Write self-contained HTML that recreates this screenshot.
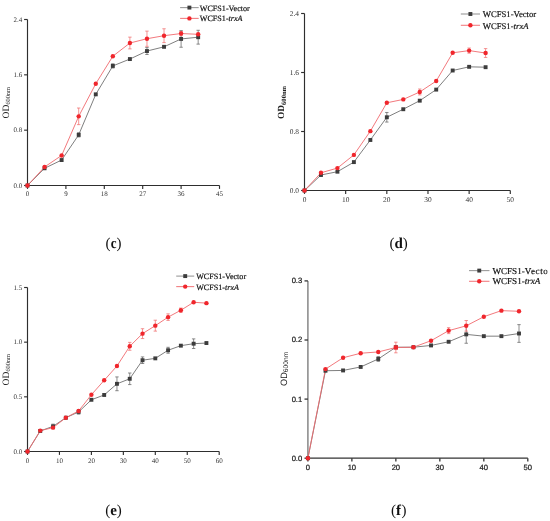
<!DOCTYPE html>
<html><head><meta charset="utf-8"><title>Growth curves</title>
<style>
html,body{margin:0;padding:0;background:#fff;}
body{width:550px;height:521px;overflow:hidden;}
svg{display:block;}
</style></head>
<body>
<svg width="550" height="521" viewBox="0 0 550 521" text-rendering="geometricPrecision">
<defs><clipPath id="clipf"><rect x="480" y="260" width="67.6" height="20"/></clipPath></defs>
<rect width="550" height="521" fill="#fff"/>
<path d="M27.5 19.5V185.5" stroke="#2e2e2e" stroke-width="1.15" fill="none"/>
<path d="M26.9 185.5H219.5" stroke="#2e2e2e" stroke-width="1.15" fill="none"/>
<path d="M24.1 185.5H27.5" stroke="#2e2e2e" stroke-width="1.15"/>
<path d="M24.1 130.17H27.5" stroke="#2e2e2e" stroke-width="1.15"/>
<path d="M24.1 74.83H27.5" stroke="#2e2e2e" stroke-width="1.15"/>
<path d="M24.1 19.5H27.5" stroke="#2e2e2e" stroke-width="1.15"/>
<path d="M27.5 185.5V188.9" stroke="#2e2e2e" stroke-width="1.15"/>
<path d="M65.9 185.5V188.9" stroke="#2e2e2e" stroke-width="1.15"/>
<path d="M104.3 185.5V188.9" stroke="#2e2e2e" stroke-width="1.15"/>
<path d="M142.7 185.5V188.9" stroke="#2e2e2e" stroke-width="1.15"/>
<path d="M181.1 185.5V188.9" stroke="#2e2e2e" stroke-width="1.15"/>
<path d="M219.5 185.5V188.9" stroke="#2e2e2e" stroke-width="1.15"/>
<text x="22.2" y="187.8" text-anchor="end" font-family="'Liberation Serif', serif" font-size="7.0" fill="#333">0.0</text>
<text x="22.2" y="132.47" text-anchor="end" font-family="'Liberation Serif', serif" font-size="7.0" fill="#333">0.8</text>
<text x="22.2" y="77.13" text-anchor="end" font-family="'Liberation Serif', serif" font-size="7.0" fill="#333">1.6</text>
<text x="22.2" y="21.8" text-anchor="end" font-family="'Liberation Serif', serif" font-size="7.0" fill="#333">2.4</text>
<text x="27.5" y="196.4" text-anchor="middle" font-family="'Liberation Serif', serif" font-size="7.0" fill="#333">0</text>
<text x="65.9" y="196.4" text-anchor="middle" font-family="'Liberation Serif', serif" font-size="7.0" fill="#333">9</text>
<text x="104.3" y="196.4" text-anchor="middle" font-family="'Liberation Serif', serif" font-size="7.0" fill="#333">18</text>
<text x="142.7" y="196.4" text-anchor="middle" font-family="'Liberation Serif', serif" font-size="7.0" fill="#333">27</text>
<text x="181.1" y="196.4" text-anchor="middle" font-family="'Liberation Serif', serif" font-size="7.0" fill="#333">36</text>
<text x="219.5" y="196.4" text-anchor="middle" font-family="'Liberation Serif', serif" font-size="7.0" fill="#333">45</text>
<text transform="translate(8.6,118.6) rotate(-90)" font-family="'Liberation Serif', serif" font-size="9.7" font-weight="normal" fill="#222">OD<tspan font-size="6.3" dy="1.6">600nm</tspan></text>
<polyline points="27.5,185.5 44.57,168.28 61.63,160.05 78.7,134.87 95.77,94.34 112.83,65.91 129.9,59.06 146.97,51.04 164.03,46.82 181.1,38.94 198.17,37.21" fill="none" stroke="#707070" stroke-width="0.9"/>
<polyline points="27.5,185.5 44.57,166.96 61.63,155.48 78.7,116.33 95.77,83.69 112.83,56.23 129.9,43.02 146.97,38.73 164.03,35.69 181.1,33.54 198.17,34.3" fill="none" stroke="#f06a6e" stroke-width="0.9"/>
<path d="M146.97 47.58V54.5M145.27 47.58h3.4M145.27 54.5h3.4" stroke="#666" stroke-width="0.75" fill="none"/>
<path d="M181.1 30.64V47.24M179.4 30.64h3.4M179.4 47.24h3.4" stroke="#666" stroke-width="0.75" fill="none"/>
<path d="M198.17 30.29V44.12M196.47 30.29h3.4M196.47 44.12h3.4" stroke="#666" stroke-width="0.75" fill="none"/>
<path d="M78.7 132.79V136.94M77 132.79h3.4M77 136.94h3.4" stroke="#666" stroke-width="0.75" fill="none"/>
<path d="M112.83 63.84V67.99M111.13 63.84h3.4M111.13 67.99h3.4" stroke="#666" stroke-width="0.75" fill="none"/>
<path d="M78.7 108.03V124.63M77 108.03h3.4M77 124.63h3.4" stroke="#f07070" stroke-width="0.75" fill="none"/>
<path d="M129.9 37.14V48.9M128.2 37.14h3.4M128.2 48.9h3.4" stroke="#f07070" stroke-width="0.75" fill="none"/>
<path d="M146.97 31.12V46.34M145.27 31.12h3.4M145.27 46.34h3.4" stroke="#f07070" stroke-width="0.75" fill="none"/>
<path d="M164.03 28.77V42.6M162.33 28.77h3.4M162.33 42.6h3.4" stroke="#f07070" stroke-width="0.75" fill="none"/>
<path d="M181.1 31.47V35.62M179.4 31.47h3.4M179.4 35.62h3.4" stroke="#f07070" stroke-width="0.75" fill="none"/>
<rect x="25.55" y="183.55" width="3.9" height="3.9" fill="#3c3c3c"/>
<rect x="42.62" y="166.33" width="3.9" height="3.9" fill="#3c3c3c"/>
<rect x="59.68" y="158.1" width="3.9" height="3.9" fill="#3c3c3c"/>
<rect x="76.75" y="132.92" width="3.9" height="3.9" fill="#3c3c3c"/>
<rect x="93.82" y="92.39" width="3.9" height="3.9" fill="#3c3c3c"/>
<rect x="110.88" y="63.96" width="3.9" height="3.9" fill="#3c3c3c"/>
<rect x="127.95" y="57.11" width="3.9" height="3.9" fill="#3c3c3c"/>
<rect x="145.02" y="49.09" width="3.9" height="3.9" fill="#3c3c3c"/>
<rect x="162.08" y="44.87" width="3.9" height="3.9" fill="#3c3c3c"/>
<rect x="179.15" y="36.99" width="3.9" height="3.9" fill="#3c3c3c"/>
<rect x="196.22" y="35.26" width="3.9" height="3.9" fill="#3c3c3c"/>
<circle cx="27.5" cy="185.5" r="2.2" fill="#f0262c"/>
<circle cx="44.57" cy="166.96" r="2.2" fill="#f0262c"/>
<circle cx="61.63" cy="155.48" r="2.2" fill="#f0262c"/>
<circle cx="78.7" cy="116.33" r="2.2" fill="#f0262c"/>
<circle cx="95.77" cy="83.69" r="2.2" fill="#f0262c"/>
<circle cx="112.83" cy="56.23" r="2.2" fill="#f0262c"/>
<circle cx="129.9" cy="43.02" r="2.2" fill="#f0262c"/>
<circle cx="146.97" cy="38.73" r="2.2" fill="#f0262c"/>
<circle cx="164.03" cy="35.69" r="2.2" fill="#f0262c"/>
<circle cx="181.1" cy="33.54" r="2.2" fill="#f0262c"/>
<circle cx="198.17" cy="34.3" r="2.2" fill="#f0262c"/>
<path d="M180.1 7.6H198.7" stroke="#9a9a9a" stroke-width="1.1"/>
<rect x="187.45" y="5.65" width="3.9" height="3.9" fill="#3c3c3c"/>
<path d="M180.1 18.4H198.7" stroke="#f27f82" stroke-width="1.1"/>
<circle cx="189.4" cy="18.4" r="2.2" fill="#f0262c"/>
<text x="199.8" y="10.5" font-family="'Liberation Serif', serif" font-size="8.1" fill="#111" stroke="#111" stroke-width="0.18">WCFS1-<tspan>Vector</tspan></text>
<text x="199.8" y="21.3" font-family="'Liberation Serif', serif" font-size="8.1" fill="#111" stroke="#111" stroke-width="0.18">WCFS1-<tspan font-style="italic">trxA</tspan></text>
<text x="105.4" y="247.8" font-family="'Liberation Serif', serif" font-size="15" fill="#111">(</text>
<text x="110.7" y="247.8" font-family="'Liberation Serif', serif" font-size="15" font-weight="bold" fill="#111" textLength="5.8" lengthAdjust="spacingAndGlyphs">c</text>
<text x="116.4" y="247.8" font-family="'Liberation Serif', serif" font-size="15" fill="#111">)</text>
<path d="M304.5 13.5V190.5" stroke="#2e2e2e" stroke-width="1.15" fill="none"/>
<path d="M303.9 190.5H510.3" stroke="#2e2e2e" stroke-width="1.15" fill="none"/>
<path d="M301.1 190.5H304.5" stroke="#2e2e2e" stroke-width="1.15"/>
<path d="M301.1 131.5H304.5" stroke="#2e2e2e" stroke-width="1.15"/>
<path d="M301.1 72.5H304.5" stroke="#2e2e2e" stroke-width="1.15"/>
<path d="M301.1 13.5H304.5" stroke="#2e2e2e" stroke-width="1.15"/>
<path d="M304.5 190.5V193.9" stroke="#2e2e2e" stroke-width="1.15"/>
<path d="M345.66 190.5V193.9" stroke="#2e2e2e" stroke-width="1.15"/>
<path d="M386.82 190.5V193.9" stroke="#2e2e2e" stroke-width="1.15"/>
<path d="M427.98 190.5V193.9" stroke="#2e2e2e" stroke-width="1.15"/>
<path d="M469.14 190.5V193.9" stroke="#2e2e2e" stroke-width="1.15"/>
<path d="M510.3 190.5V193.9" stroke="#2e2e2e" stroke-width="1.15"/>
<text x="299" y="192.9" text-anchor="end" font-family="'Liberation Serif', serif" font-size="7.4" fill="#333">0.0</text>
<text x="299" y="133.9" text-anchor="end" font-family="'Liberation Serif', serif" font-size="7.4" fill="#333">0.8</text>
<text x="299" y="74.9" text-anchor="end" font-family="'Liberation Serif', serif" font-size="7.4" fill="#333">1.6</text>
<text x="299" y="15.9" text-anchor="end" font-family="'Liberation Serif', serif" font-size="7.4" fill="#333">2.4</text>
<text x="304.5" y="202" text-anchor="middle" font-family="'Liberation Serif', serif" font-size="7.4" fill="#333">0</text>
<text x="345.66" y="202" text-anchor="middle" font-family="'Liberation Serif', serif" font-size="7.4" fill="#333">10</text>
<text x="386.82" y="202" text-anchor="middle" font-family="'Liberation Serif', serif" font-size="7.4" fill="#333">20</text>
<text x="427.98" y="202" text-anchor="middle" font-family="'Liberation Serif', serif" font-size="7.4" fill="#333">30</text>
<text x="469.14" y="202" text-anchor="middle" font-family="'Liberation Serif', serif" font-size="7.4" fill="#333">40</text>
<text x="510.3" y="202" text-anchor="middle" font-family="'Liberation Serif', serif" font-size="7.4" fill="#333">50</text>
<text transform="translate(284.3,119) rotate(-90)" font-family="'Liberation Serif', serif" font-size="9.4" font-weight="bold" fill="#222">OD<tspan font-size="6.6" dy="1.5">600nm</tspan></text>
<polyline points="304.5,190.5 320.96,175.01 337.43,171.69 353.89,162.11 370.36,139.98 386.82,117.27 403.28,109.23 419.75,100.67 436.21,89.61 452.68,70.51 469.14,66.82 485.6,67.19" fill="none" stroke="#707070" stroke-width="0.9"/>
<polyline points="304.5,190.5 320.96,172.8 337.43,168.08 353.89,154.88 370.36,131.13 386.82,102.81 403.28,99.42 419.75,91.97 436.21,81.06 452.68,52.81 469.14,50.6 485.6,53.03" fill="none" stroke="#f06a6e" stroke-width="0.9"/>
<path d="M386.82 112.47V122.06M385.12 112.47h3.4M385.12 122.06h3.4" stroke="#666" stroke-width="0.75" fill="none"/>
<path d="M419.75 89.02V94.92M418.05 89.02h3.4M418.05 94.92h3.4" stroke="#f07070" stroke-width="0.75" fill="none"/>
<path d="M469.14 48.02V53.18M467.44 48.02h3.4M467.44 53.18h3.4" stroke="#f07070" stroke-width="0.75" fill="none"/>
<path d="M485.6 48.6V57.45M483.9 48.6h3.4M483.9 57.45h3.4" stroke="#f07070" stroke-width="0.75" fill="none"/>
<rect x="302.55" y="188.55" width="3.9" height="3.9" fill="#3c3c3c"/>
<rect x="319.01" y="173.06" width="3.9" height="3.9" fill="#3c3c3c"/>
<rect x="335.48" y="169.74" width="3.9" height="3.9" fill="#3c3c3c"/>
<rect x="351.94" y="160.16" width="3.9" height="3.9" fill="#3c3c3c"/>
<rect x="368.41" y="138.03" width="3.9" height="3.9" fill="#3c3c3c"/>
<rect x="384.87" y="115.32" width="3.9" height="3.9" fill="#3c3c3c"/>
<rect x="401.33" y="107.28" width="3.9" height="3.9" fill="#3c3c3c"/>
<rect x="417.8" y="98.72" width="3.9" height="3.9" fill="#3c3c3c"/>
<rect x="434.26" y="87.66" width="3.9" height="3.9" fill="#3c3c3c"/>
<rect x="450.73" y="68.56" width="3.9" height="3.9" fill="#3c3c3c"/>
<rect x="467.19" y="64.87" width="3.9" height="3.9" fill="#3c3c3c"/>
<rect x="483.65" y="65.24" width="3.9" height="3.9" fill="#3c3c3c"/>
<circle cx="304.5" cy="190.5" r="2.2" fill="#f0262c"/>
<circle cx="320.96" cy="172.8" r="2.2" fill="#f0262c"/>
<circle cx="337.43" cy="168.08" r="2.2" fill="#f0262c"/>
<circle cx="353.89" cy="154.88" r="2.2" fill="#f0262c"/>
<circle cx="370.36" cy="131.13" r="2.2" fill="#f0262c"/>
<circle cx="386.82" cy="102.81" r="2.2" fill="#f0262c"/>
<circle cx="403.28" cy="99.42" r="2.2" fill="#f0262c"/>
<circle cx="419.75" cy="91.97" r="2.2" fill="#f0262c"/>
<circle cx="436.21" cy="81.06" r="2.2" fill="#f0262c"/>
<circle cx="452.68" cy="52.81" r="2.2" fill="#f0262c"/>
<circle cx="469.14" cy="50.6" r="2.2" fill="#f0262c"/>
<circle cx="485.6" cy="53.03" r="2.2" fill="#f0262c"/>
<path d="M460.8 14H480" stroke="#9a9a9a" stroke-width="1.1"/>
<rect x="468.45" y="12.05" width="3.9" height="3.9" fill="#3c3c3c"/>
<path d="M460.8 25.3H480" stroke="#f27f82" stroke-width="1.1"/>
<circle cx="470.4" cy="25.3" r="2.2" fill="#f0262c"/>
<text x="482.7" y="17.3" font-family="'Liberation Serif', serif" font-size="8.7" fill="#111" stroke="#111" stroke-width="0.18">WCFS1-<tspan>Vector</tspan></text>
<text x="482.7" y="28.6" font-family="'Liberation Serif', serif" font-size="8.7" fill="#111" stroke="#111" stroke-width="0.18">WCFS1-<tspan font-style="italic">trxA</tspan></text>
<text x="389.4" y="247.8" font-family="'Liberation Serif', serif" font-size="15" fill="#111">(</text>
<text x="394.6" y="247.8" font-family="'Liberation Serif', serif" font-size="15" font-weight="bold" fill="#111">d</text>
<text x="402.8" y="247.8" font-family="'Liberation Serif', serif" font-size="15" fill="#111">)</text>
<path d="M27.5 287.5V451.5" stroke="#2e2e2e" stroke-width="1.15" fill="none"/>
<path d="M26.9 451.5H219.2" stroke="#2e2e2e" stroke-width="1.15" fill="none"/>
<path d="M24.1 451.5H27.5" stroke="#2e2e2e" stroke-width="1.15"/>
<path d="M24.1 396.83H27.5" stroke="#2e2e2e" stroke-width="1.15"/>
<path d="M24.1 342.17H27.5" stroke="#2e2e2e" stroke-width="1.15"/>
<path d="M24.1 287.5H27.5" stroke="#2e2e2e" stroke-width="1.15"/>
<path d="M27.5 451.5V454.9" stroke="#2e2e2e" stroke-width="1.15"/>
<path d="M59.45 451.5V454.9" stroke="#2e2e2e" stroke-width="1.15"/>
<path d="M91.4 451.5V454.9" stroke="#2e2e2e" stroke-width="1.15"/>
<path d="M123.35 451.5V454.9" stroke="#2e2e2e" stroke-width="1.15"/>
<path d="M155.3 451.5V454.9" stroke="#2e2e2e" stroke-width="1.15"/>
<path d="M187.25 451.5V454.9" stroke="#2e2e2e" stroke-width="1.15"/>
<path d="M219.2 451.5V454.9" stroke="#2e2e2e" stroke-width="1.15"/>
<text x="22.2" y="453.8" text-anchor="end" font-family="'Liberation Serif', serif" font-size="7.0" fill="#333">0.0</text>
<text x="22.2" y="399.13" text-anchor="end" font-family="'Liberation Serif', serif" font-size="7.0" fill="#333">0.5</text>
<text x="22.2" y="344.47" text-anchor="end" font-family="'Liberation Serif', serif" font-size="7.0" fill="#333">1.0</text>
<text x="22.2" y="289.8" text-anchor="end" font-family="'Liberation Serif', serif" font-size="7.0" fill="#333">1.5</text>
<text x="27.5" y="462.6" text-anchor="middle" font-family="'Liberation Serif', serif" font-size="7.0" fill="#333">0</text>
<text x="59.45" y="462.6" text-anchor="middle" font-family="'Liberation Serif', serif" font-size="7.0" fill="#333">10</text>
<text x="91.4" y="462.6" text-anchor="middle" font-family="'Liberation Serif', serif" font-size="7.0" fill="#333">20</text>
<text x="123.35" y="462.6" text-anchor="middle" font-family="'Liberation Serif', serif" font-size="7.0" fill="#333">30</text>
<text x="155.3" y="462.6" text-anchor="middle" font-family="'Liberation Serif', serif" font-size="7.0" fill="#333">40</text>
<text x="187.25" y="462.6" text-anchor="middle" font-family="'Liberation Serif', serif" font-size="7.0" fill="#333">50</text>
<text x="219.2" y="462.6" text-anchor="middle" font-family="'Liberation Serif', serif" font-size="7.0" fill="#333">60</text>
<text transform="translate(8.6,385.6) rotate(-90)" font-family="'Liberation Serif', serif" font-size="9.7" font-weight="normal" fill="#222">OD<tspan font-size="6.3" dy="1.6">600nm</tspan></text>
<polyline points="27.5,451.5 40.28,430.95 53.06,426.35 65.84,417.72 78.62,411.92 91.4,399.79 104.18,394.97 116.96,383.82 129.74,378.79 142.52,360.21 155.3,358.35 168.08,350.26 180.86,345.67 193.64,343.7 206.42,343.04" fill="none" stroke="#707070" stroke-width="0.9"/>
<polyline points="27.5,451.5 40.28,430.62 53.06,427.67 65.84,417.72 78.62,410.94 91.4,394.76 104.18,380.32 116.96,366 129.74,346.32 142.52,333.64 155.3,325.66 168.08,317.13 180.86,310.24 193.64,302.26 206.42,303.13" fill="none" stroke="#f06a6e" stroke-width="0.9"/>
<path d="M116.96 376.93V390.71M115.26 376.93h3.4M115.26 390.71h3.4" stroke="#666" stroke-width="0.75" fill="none"/>
<path d="M129.74 373V384.59M128.04 373h3.4M128.04 384.59h3.4" stroke="#666" stroke-width="0.75" fill="none"/>
<path d="M142.52 356.93V363.49M140.82 356.93h3.4M140.82 363.49h3.4" stroke="#666" stroke-width="0.75" fill="none"/>
<path d="M168.08 347.31V353.21M166.38 347.31h3.4M166.38 353.21h3.4" stroke="#666" stroke-width="0.75" fill="none"/>
<path d="M193.64 338.89V348.51M191.94 338.89h3.4M191.94 348.51h3.4" stroke="#666" stroke-width="0.75" fill="none"/>
<path d="M53.06 424.17V428.54M51.36 424.17h3.4M51.36 428.54h3.4" stroke="#666" stroke-width="0.75" fill="none"/>
<path d="M78.62 409.73V414.11M76.92 409.73h3.4M76.92 414.11h3.4" stroke="#666" stroke-width="0.75" fill="none"/>
<path d="M129.74 342.39V350.26M128.04 342.39h3.4M128.04 350.26h3.4" stroke="#f07070" stroke-width="0.75" fill="none"/>
<path d="M142.52 328.72V338.56M140.82 328.72h3.4M140.82 338.56h3.4" stroke="#f07070" stroke-width="0.75" fill="none"/>
<path d="M155.3 320.19V331.12M153.6 320.19h3.4M153.6 331.12h3.4" stroke="#f07070" stroke-width="0.75" fill="none"/>
<path d="M168.08 313.85V320.41M166.38 313.85h3.4M166.38 320.41h3.4" stroke="#f07070" stroke-width="0.75" fill="none"/>
<path d="M180.86 308.05V312.43M179.16 308.05h3.4M179.16 312.43h3.4" stroke="#f07070" stroke-width="0.75" fill="none"/>
<rect x="25.55" y="449.55" width="3.9" height="3.9" fill="#3c3c3c"/>
<rect x="38.33" y="429" width="3.9" height="3.9" fill="#3c3c3c"/>
<rect x="51.11" y="424.4" width="3.9" height="3.9" fill="#3c3c3c"/>
<rect x="63.89" y="415.77" width="3.9" height="3.9" fill="#3c3c3c"/>
<rect x="76.67" y="409.97" width="3.9" height="3.9" fill="#3c3c3c"/>
<rect x="89.45" y="397.84" width="3.9" height="3.9" fill="#3c3c3c"/>
<rect x="102.23" y="393.02" width="3.9" height="3.9" fill="#3c3c3c"/>
<rect x="115.01" y="381.87" width="3.9" height="3.9" fill="#3c3c3c"/>
<rect x="127.79" y="376.84" width="3.9" height="3.9" fill="#3c3c3c"/>
<rect x="140.57" y="358.26" width="3.9" height="3.9" fill="#3c3c3c"/>
<rect x="153.35" y="356.4" width="3.9" height="3.9" fill="#3c3c3c"/>
<rect x="166.13" y="348.31" width="3.9" height="3.9" fill="#3c3c3c"/>
<rect x="178.91" y="343.72" width="3.9" height="3.9" fill="#3c3c3c"/>
<rect x="191.69" y="341.75" width="3.9" height="3.9" fill="#3c3c3c"/>
<rect x="204.47" y="341.09" width="3.9" height="3.9" fill="#3c3c3c"/>
<circle cx="27.5" cy="451.5" r="2.2" fill="#f0262c"/>
<circle cx="40.28" cy="430.62" r="2.2" fill="#f0262c"/>
<circle cx="53.06" cy="427.67" r="2.2" fill="#f0262c"/>
<circle cx="65.84" cy="417.72" r="2.2" fill="#f0262c"/>
<circle cx="78.62" cy="410.94" r="2.2" fill="#f0262c"/>
<circle cx="91.4" cy="394.76" r="2.2" fill="#f0262c"/>
<circle cx="104.18" cy="380.32" r="2.2" fill="#f0262c"/>
<circle cx="116.96" cy="366" r="2.2" fill="#f0262c"/>
<circle cx="129.74" cy="346.32" r="2.2" fill="#f0262c"/>
<circle cx="142.52" cy="333.64" r="2.2" fill="#f0262c"/>
<circle cx="155.3" cy="325.66" r="2.2" fill="#f0262c"/>
<circle cx="168.08" cy="317.13" r="2.2" fill="#f0262c"/>
<circle cx="180.86" cy="310.24" r="2.2" fill="#f0262c"/>
<circle cx="193.64" cy="302.26" r="2.2" fill="#f0262c"/>
<circle cx="206.42" cy="303.13" r="2.2" fill="#f0262c"/>
<path d="M176.2 276.1H194.2" stroke="#9a9a9a" stroke-width="1.1"/>
<rect x="183.25" y="274.15" width="3.9" height="3.9" fill="#3c3c3c"/>
<path d="M176.2 286.6H194.2" stroke="#f27f82" stroke-width="1.1"/>
<circle cx="185.2" cy="286.6" r="2.2" fill="#f0262c"/>
<text x="196.2" y="279" font-family="'Liberation Serif', serif" font-size="8.1" fill="#111" stroke="#111" stroke-width="0.18">WCFS1-<tspan>Vector</tspan></text>
<text x="196.2" y="289.5" font-family="'Liberation Serif', serif" font-size="8.1" fill="#111" stroke="#111" stroke-width="0.18">WCFS1-<tspan font-style="italic">trxA</tspan></text>
<text x="105.2" y="515" font-family="'Liberation Serif', serif" font-size="15" fill="#111">(</text>
<text x="110.3" y="515" font-family="'Liberation Serif', serif" font-size="15" font-weight="bold" fill="#111">e</text>
<text x="116.8" y="515" font-family="'Liberation Serif', serif" font-size="15" fill="#111">)</text>
<path d="M307.9 280.9V458.2" stroke="#878787" stroke-width="1.5" fill="none"/>
<path d="M307.3 458.2H527.8" stroke="#333" stroke-width="1.3" fill="none"/>
<path d="M304.5 458.2H307.9" stroke="#333" stroke-width="1.3"/>
<path d="M304.5 399.1H307.9" stroke="#333" stroke-width="1.3"/>
<path d="M304.5 340H307.9" stroke="#333" stroke-width="1.3"/>
<path d="M304.5 280.9H307.9" stroke="#333" stroke-width="1.3"/>
<path d="M307.9 458.2V461.6" stroke="#333" stroke-width="1.3"/>
<path d="M351.88 458.2V461.6" stroke="#333" stroke-width="1.3"/>
<path d="M395.86 458.2V461.6" stroke="#333" stroke-width="1.3"/>
<path d="M439.84 458.2V461.6" stroke="#333" stroke-width="1.3"/>
<path d="M483.82 458.2V461.6" stroke="#333" stroke-width="1.3"/>
<path d="M527.8 458.2V461.6" stroke="#333" stroke-width="1.3"/>
<text x="302.2" y="460.6" text-anchor="end" font-family="'Liberation Sans', sans-serif" font-size="7.6" fill="#1a1a1a" stroke="#1a1a1a" stroke-width="0.22">0.0</text>
<text x="302.2" y="401.5" text-anchor="end" font-family="'Liberation Sans', sans-serif" font-size="7.6" fill="#1a1a1a" stroke="#1a1a1a" stroke-width="0.22">0.1</text>
<text x="302.2" y="342.4" text-anchor="end" font-family="'Liberation Sans', sans-serif" font-size="7.6" fill="#1a1a1a" stroke="#1a1a1a" stroke-width="0.22">0.2</text>
<text x="302.2" y="283.3" text-anchor="end" font-family="'Liberation Sans', sans-serif" font-size="7.6" fill="#1a1a1a" stroke="#1a1a1a" stroke-width="0.22">0.3</text>
<text x="307.9" y="470.2" text-anchor="middle" font-family="'Liberation Sans', sans-serif" font-size="7.6" fill="#1a1a1a" stroke="#1a1a1a" stroke-width="0.22">0</text>
<text x="351.88" y="470.2" text-anchor="middle" font-family="'Liberation Sans', sans-serif" font-size="7.6" fill="#1a1a1a" stroke="#1a1a1a" stroke-width="0.22">10</text>
<text x="395.86" y="470.2" text-anchor="middle" font-family="'Liberation Sans', sans-serif" font-size="7.6" fill="#1a1a1a" stroke="#1a1a1a" stroke-width="0.22">20</text>
<text x="439.84" y="470.2" text-anchor="middle" font-family="'Liberation Sans', sans-serif" font-size="7.6" fill="#1a1a1a" stroke="#1a1a1a" stroke-width="0.22">30</text>
<text x="483.82" y="470.2" text-anchor="middle" font-family="'Liberation Sans', sans-serif" font-size="7.6" fill="#1a1a1a" stroke="#1a1a1a" stroke-width="0.22">40</text>
<text x="527.8" y="470.2" text-anchor="middle" font-family="'Liberation Sans', sans-serif" font-size="7.6" fill="#1a1a1a" stroke="#1a1a1a" stroke-width="0.22">50</text>
<text transform="translate(286.7,386) rotate(-90)" font-family="'Liberation Sans', sans-serif" font-size="9.2" font-weight="normal" fill="#222">OD<tspan font-size="6.7" dy="1.6">600nm</tspan></text>
<polyline points="307.9,458.2 325.49,370.73 343.08,370.44 360.68,366.95 378.27,358.97 395.86,347.21 413.45,347.21 431.04,345.44 448.64,341.77 466.23,334.39 483.82,336.16 501.41,336.16 519,333.5" fill="none" stroke="#707070" stroke-width="0.9"/>
<polyline points="307.9,458.2 325.49,369.08 343.08,357.73 360.68,353.24 378.27,351.94 395.86,347.51 413.45,347.21 431.04,340.71 448.64,330.66 466.23,325.82 483.82,316.71 501.41,310.63 519,311.28" fill="none" stroke="#f06a6e" stroke-width="0.9"/>
<path d="M466.23 325.52V343.25M464.53 325.52h3.4M464.53 343.25h3.4" stroke="#666" stroke-width="0.75" fill="none"/>
<path d="M519 324.63V342.36M517.3 324.63h3.4M517.3 342.36h3.4" stroke="#666" stroke-width="0.75" fill="none"/>
<path d="M378.27 356.61V361.34M376.57 356.61h3.4M376.57 361.34h3.4" stroke="#666" stroke-width="0.75" fill="none"/>
<path d="M395.86 342.19V352.82M394.16 342.19h3.4M394.16 352.82h3.4" stroke="#f07070" stroke-width="0.75" fill="none"/>
<path d="M448.64 327.71V333.62M446.94 327.71h3.4M446.94 333.62h3.4" stroke="#f07070" stroke-width="0.75" fill="none"/>
<path d="M466.23 320.5V331.13M464.53 320.5h3.4M464.53 331.13h3.4" stroke="#f07070" stroke-width="0.75" fill="none"/>
<rect x="305.95" y="456.25" width="3.9" height="3.9" fill="#3c3c3c"/>
<rect x="323.54" y="368.78" width="3.9" height="3.9" fill="#3c3c3c"/>
<rect x="341.13" y="368.49" width="3.9" height="3.9" fill="#3c3c3c"/>
<rect x="358.73" y="365" width="3.9" height="3.9" fill="#3c3c3c"/>
<rect x="376.32" y="357.02" width="3.9" height="3.9" fill="#3c3c3c"/>
<rect x="393.91" y="345.26" width="3.9" height="3.9" fill="#3c3c3c"/>
<rect x="411.5" y="345.26" width="3.9" height="3.9" fill="#3c3c3c"/>
<rect x="429.09" y="343.49" width="3.9" height="3.9" fill="#3c3c3c"/>
<rect x="446.69" y="339.82" width="3.9" height="3.9" fill="#3c3c3c"/>
<rect x="464.28" y="332.44" width="3.9" height="3.9" fill="#3c3c3c"/>
<rect x="481.87" y="334.21" width="3.9" height="3.9" fill="#3c3c3c"/>
<rect x="499.46" y="334.21" width="3.9" height="3.9" fill="#3c3c3c"/>
<rect x="517.05" y="331.55" width="3.9" height="3.9" fill="#3c3c3c"/>
<circle cx="307.9" cy="458.2" r="2.2" fill="#f0262c"/>
<circle cx="325.49" cy="369.08" r="2.2" fill="#f0262c"/>
<circle cx="343.08" cy="357.73" r="2.2" fill="#f0262c"/>
<circle cx="360.68" cy="353.24" r="2.2" fill="#f0262c"/>
<circle cx="378.27" cy="351.94" r="2.2" fill="#f0262c"/>
<rect x="393.76" y="345.41" width="4.2" height="4.2" fill="#f0262c"/>
<circle cx="413.45" cy="347.21" r="2.2" fill="#f0262c"/>
<circle cx="431.04" cy="340.71" r="2.2" fill="#f0262c"/>
<circle cx="448.64" cy="330.66" r="2.2" fill="#f0262c"/>
<circle cx="466.23" cy="325.82" r="2.2" fill="#f0262c"/>
<circle cx="483.82" cy="316.71" r="2.2" fill="#f0262c"/>
<circle cx="501.41" cy="310.63" r="2.2" fill="#f0262c"/>
<circle cx="519" cy="311.28" r="2.2" fill="#f0262c"/>
<path d="M469 270.6H489.5" stroke="#9a9a9a" stroke-width="1.1"/>
<rect x="477.3" y="268.65" width="3.9" height="3.9" fill="#3c3c3c"/>
<path d="M469 281.3H489.5" stroke="#f27f82" stroke-width="1.1"/>
<circle cx="479.25" cy="281.3" r="2.2" fill="#f0262c"/>
<text x="492.4" y="273.5" font-family="'Liberation Serif', serif" font-size="9.1" fill="#111" stroke="#111" stroke-width="0.18" font-kerning="none" clip-path="url(#clipf)">WCFS1-<tspan letter-spacing="0.6" font-kerning="none">Vector</tspan></text>
<text x="492.4" y="284.2" font-family="'Liberation Serif', serif" font-size="9.1" fill="#111" stroke="#111" stroke-width="0.18">WCFS1-<tspan font-style="italic">trxA</tspan></text>
<text x="391" y="514.7" font-family="'Liberation Serif', serif" font-size="15" fill="#111">(</text>
<text x="396" y="514.7" font-family="'Liberation Serif', serif" font-size="15" font-weight="bold" fill="#111">f</text>
<text x="401.5" y="514.7" font-family="'Liberation Serif', serif" font-size="15" fill="#111">)</text>
</svg>
</body></html>
